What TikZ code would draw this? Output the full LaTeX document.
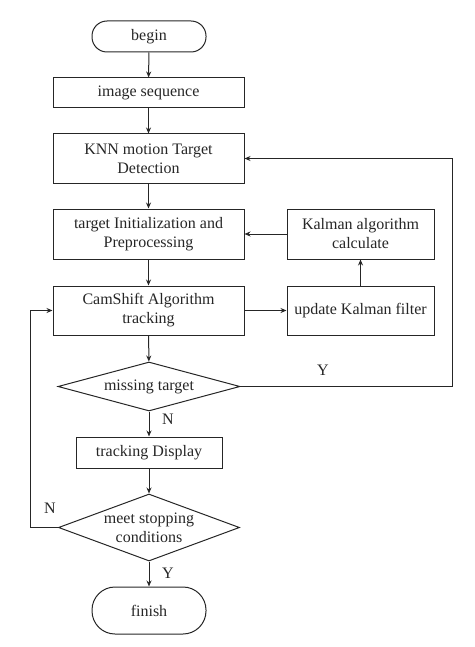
\documentclass[tikz,border=0pt]{standalone}
\usepackage{fontspec}
\setmainfont{Liberation Serif}
\usetikzlibrary{shapes.geometric,arrows.meta}
\definecolor{ink}{RGB}{38,38,38}
\begin{document}
\begin{tikzpicture}[x=1pt,y=-1pt,
  every node/.style={font=\fontsize{16}{19}\selectfont, text=ink, align=center, inner sep=0pt},
  box/.style={draw=ink, line width=1pt, rectangle},
  term/.style={draw=ink, line width=1pt, rectangle, rounded corners=15pt},
  decide/.style={draw=ink, line width=1pt, diamond},
  flow/.style={draw=ink, line width=1pt, -{Stealth[length=6pt,width=5pt]}},
  lbl/.style={font=\fontsize{16}{19}\selectfont}]
\useasboundingbox (0,0) rectangle (474,647);
\node[term, minimum width=114pt, minimum height=31pt] (begin) at (149,36.5) {begin};
\node[box, minimum width=191pt, minimum height=30pt] (img) at (148.5,93) {image sequence};
\node[box, minimum width=191pt, minimum height=49pt] (knn) at (148.5,158.5) {KNN motion Target\\Detection};
\node[box, minimum width=191pt, minimum height=50pt] (init) at (148.5,234) {target Initialization and\\Preprocessing};
\node[box, minimum width=147pt, minimum height=50pt] (kcalc) at (360.5,234) {Kalman algorithm\\calculate};
\node[box, minimum width=191pt, minimum height=49pt] (cam) at (148.5,310.5) {CamShift Algorithm\\tracking};
\node[box, minimum width=147pt, minimum height=49pt] (upd) at (360.5,310.5) {update Kalman filter};
\node[decide, minimum width=182pt, minimum height=49pt, shape aspect=3.7] (miss) at (149,386.5) {missing target};
\node[box, minimum width=146pt, minimum height=31pt] (disp) at (149,452.5) {tracking Display};
\node[decide, minimum width=181pt, minimum height=67pt, shape aspect=2.7] (stop) at (149,527.5) {meet stopping\\conditions};
\node[term, rounded corners=23pt, minimum width=114pt, minimum height=47pt] (fin) at (149,610.5) {finish};
\coordinate (r1) at (452,386.5);
\coordinate (r2) at (452,158.5);
\coordinate (l1) at (30,527.5);
\coordinate (l2) at (30,310.5);
\draw[flow] (begin) -- (img);
\draw[flow] (img) -- (knn);
\draw[flow] (knn) -- (init);
\draw[flow] (init) -- (cam);
\draw[flow] (cam) -- (miss);
\draw[flow] (miss) -- (disp);
\draw[flow] (disp) -- (stop);
\draw[flow] (stop) -- (fin);
\draw[flow] (cam) -- (upd);
\draw[flow] (upd) -- (kcalc);
\draw[flow] (kcalc) -- (init);
\draw[flow] (miss.east) -- (r1) -- (r2) -- (knn.east);
\draw[flow] (stop.west) -- (l1) -- (l2) -- (cam.west);
\node[lbl] (ny) at (323,370) {Y};
\node[lbl] (nn) at (168,419) {N};
\node[lbl] (sn) at (50,508) {N};
\node[lbl] (sy) at (168,573) {Y};
\end{tikzpicture}
\end{document}
